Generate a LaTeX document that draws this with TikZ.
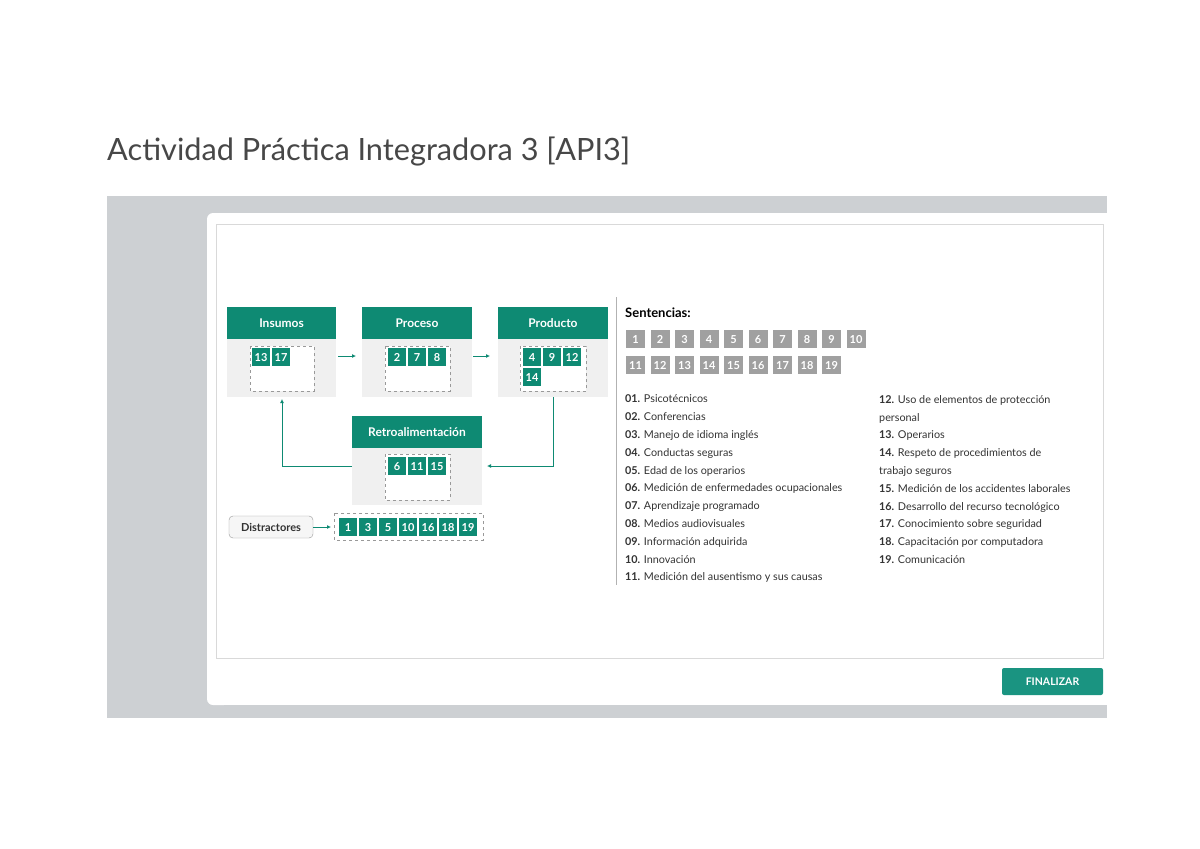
\documentclass[tikz,border=0pt]{standalone}
\usepackage{fontspec}
\usetikzlibrary{arrows.meta}
\setmainfont{Lato}
\definecolor{teal}{HTML}{0E8A73}
\definecolor{btn}{HTML}{1A9481}
\definecolor{panel}{HTML}{CDD0D3}
\definecolor{body}{HTML}{F0F0F0}
\definecolor{sq}{HTML}{A0A0A0}
\definecolor{txt}{HTML}{333333}
\begin{document}
\begin{tikzpicture}[x=1pt,y=-1pt,
  hdr/.style={fill=teal,draw=none},
  bodyb/.style={fill=body,draw=none},
  dbox/.style={draw=gray!80,dashed,fill=white,line width=0.8pt},
  gsq/.style={fill=teal,draw=white,line width=0.5pt,text=white,font=\bfseries\fontsize{11}{11}\selectfont,inner sep=0pt,minimum width=19pt,minimum height=19pt,text height=8pt,text depth=0pt},
  ssq/.style={fill=sq,text=white,font=\bfseries\fontsize{11}{11}\selectfont,inner sep=0pt,minimum width=19pt,minimum height=18pt,text height=8pt,text depth=0pt},
  arr/.style={draw=teal,line width=1pt,-{Latex[length=4pt,width=4pt]}},
  itm/.style={anchor=base west,inner sep=0pt,text=txt,font=\fontsize{10.8}{12}\selectfont},
  ttl/.style={text=white,font=\bfseries\fontsize{12}{13}\selectfont}]
\useasboundingbox (0,0) rectangle (1200,849);
\fill[white] (0,0) rectangle (1200,849);
\node[anchor=base west,inner sep=0pt,text=txt!90,font=\fontsize{30.7}{33}\selectfont] (title) at (107,160) {Actividad Práctica Integradora 3 [API3]};
\fill[panel] (107,196) rectangle (1107,718);
\fill[white] (213,213) rectangle (1107,705);
\fill[white,rounded corners=6pt] (207,213) rectangle (230,705);
\draw[gray!30] (216,224) rectangle (1103,658);
\node[fill=btn,text=white,font=\bfseries\fontsize{10.5}{12}\selectfont,minimum width=101pt,minimum height=27pt,inner sep=0pt,rounded corners=2pt] (fin) at (1052.5,681.5) {FINALIZAR};
\foreach \n/\x/\w/\lab in {ins/227/109/Insumos,pro/362/110/Proceso,prd/498/110/Producto}{
  \fill[bodyb] (\x,339) rectangle ++(\w,58);
  \fill[hdr] (\x,307) rectangle ++(\w,32);
  \node[ttl] (\n) at (\x+\w/2,323) {\lab};
}
\fill[bodyb] (352,448) rectangle (482,505);
\fill[hdr] (352,416) rectangle (482,448);
\node[ttl] (ret) at (417,432) {Retroalimentación};
\draw[dbox] (250,346) rectangle (314,391);
\draw[dbox] (385,346) rectangle (450,391);
\draw[dbox] (520,346) rectangle (586,391);
\draw[dbox] (385,454) rectangle (450,500);
\draw[dbox] (334,513) rectangle (483,540);
\node[gsq] (g13) at (261,357) {13}; \node[gsq] (g17) at (281,357) {17};
\node[gsq] (g2) at (397,357) {2}; \node[gsq] (g7) at (417,357) {7}; \node[gsq] (g8) at (437,357) {8};
\node[gsq] (g4) at (532,357) {4}; \node[gsq] (g9) at (552,357) {9}; \node[gsq] (g12) at (572,357) {12};
\node[gsq] (g14) at (532,377) {14};
\node[gsq] (g6) at (397,466) {6}; \node[gsq] (g11) at (417,466) {11}; \node[gsq] (g15) at (437,466) {15};
\foreach \t [count=\i] in {1,3,5,10,16,18,19}{
  \node[gsq] (d\t) at (328+20*\i,527) {\t};
}
\node[draw=gray!80,fill=body!60,rounded corners=4pt,minimum width=84pt,minimum height=22pt,inner sep=0pt,text=txt,font=\bfseries\fontsize{11}{12}\selectfont] (dis) at (271,527) {Distractores};
\coordinate (a1) at (338,356); \coordinate (a2) at (356,356);
\coordinate (b1) at (473,356); \coordinate (b2) at (490,356);
\draw[arr] (a1) -- (a2);
\draw[arr] (b1) -- (b2);
\coordinate (p1) at (553,397); \coordinate (p2) at (487,466);
\draw[arr] (p1) |- (p2);
\coordinate (r1) at (352,466); \coordinate (r2) at (282,399);
\draw[arr] (r1) -| (r2);
\coordinate (dd) at (331,527);
\draw[arr] (dis) -- (dd);
\draw[gray!60,line width=0.8pt] (616,297) -- (616,585);
\node[anchor=base west,inner sep=0pt,text=black,font=\bfseries\fontsize{13}{14}\selectfont] (sent) at (625,317) {Sentencias:};
\foreach \i in {1,...,10}{\node[ssq] (s\i) at (635.5+24.5*\i-24.5,339) {\i};}
\foreach \i in {11,...,19}{\node[ssq] (s\i) at (635.5+24.5*\i-269.5,365) {\i};}
\foreach \t [count=\i] in {{\textbf{01.} Psicotécnicos},{\textbf{02.} Conferencias},{\textbf{03.} Manejo de idioma inglés},{\textbf{04.} Conductas seguras},{\textbf{05.} Edad de los operarios},{\textbf{06.} Medición de enfermedades ocupacionales},{\textbf{07.} Aprendizaje programado},{\textbf{08.} Medios audiovisuales},{\textbf{09.} Información adquirida},{\textbf{10.} Innovación},{\textbf{11.} Medición del ausentismo y sus causas}}{
  \node[itm] (l\i) at (625,385+17.8*\i) {\t};
}
\node[itm] (m12) at (879,403) {\textbf{12.} Uso de elementos de protección};
\node[itm] (m12b) at (879,421) {personal};
\node[itm] (m13) at (879,438) {\textbf{13.} Operarios};
\node[itm] (m14) at (879,456) {\textbf{14.} Respeto de procedimientos de};
\node[itm] (m14b) at (879,474) {trabajo seguros};
\node[itm] (m15) at (879,492) {\textbf{15.} Medición de los accidentes laborales};
\node[itm] (m16) at (879,510) {\textbf{16.} Desarrollo del recurso tecnológico};
\node[itm] (m17) at (879,527) {\textbf{17.} Conocimiento sobre seguridad};
\node[itm] (m18) at (879,545) {\textbf{18.} Capacitación por computadora};
\node[itm] (m19) at (879,563) {\textbf{19.} Comunicación};
\end{tikzpicture}
\end{document}
